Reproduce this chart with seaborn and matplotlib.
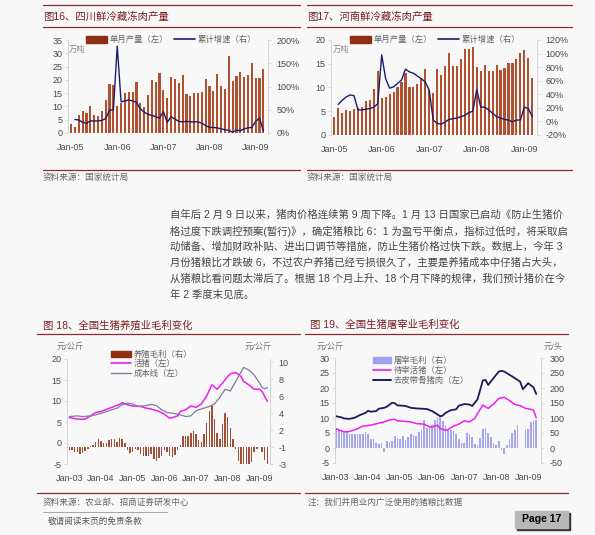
import matplotlib
matplotlib.use('Agg')
import matplotlib.pyplot as plt
import seaborn as sns
from matplotlib.lines import Line2D
from matplotlib.patches import Patch, Rectangle

# ---- Fig 16: Sichuan, Jan-05 .. Mar-09 (monthly) ----
sc_month = list(range(51))
sc_output = [3.4, 2.4, 6.8, 8.4, 7.6, 10.1, 6.6, 6.4, 8.4, 12.6, 18.4, 18.0,
             10.1, 11.4, 14.9, 15.4, 15.4, 19.1, 11.4, 9.9, 14.3, 19.9, 19.3, 22.4,
             16.1, 13.0, 21.1, 20.5, 18.8, 21.8, 14.5, 14.0, 15.0, 15.0, 15.4, 20.2,
             17.8, 15.9, 22.2, 17.8, 16.5, 29.0, 19.6, 21.5, 23.0, 21.2, 21.8, 26.2,
             20.6, 20.6, 24.0]
sc_growth = [29, 28, 23, 21, 26, 26, 26, 27, 31, 49, 50,
             187, 67, 69, 71, 69, 66, 52, 45, 40, 38, 35, 32,
             46, 23, 35, 30, 25, 24, 25, 24, 24, 24, 21, 16,
             12, 12, 11, 9, 7, 6, 1.5, 6, 5, 9, 11, 12,
             25, 32, 5]  # from Feb-05

# ---- Fig 17: Henan, Jan-05 .. Mar-09 ----
hn_month = list(range(51))
hn_output = [3.7, 5.6, 4.7, 5.3, 5.0, 5.5, 5.6, 5.8, 7.2, 7.4, 9.6, 13.5,
             7.7, 8.1, 8.6, 9.0, 10.0, 11.2, 13.0, 10.0, 10.0, 10.7, 12.1, 13.9,
             9.5, 8.9, 13.9, 12.6, 14.5, 17.2, 14.5, 14.5, 15.9, 18.2, 18.1, 18.6,
             14.4, 13.5, 14.7, 13.4, 13.5, 14.7, 13.7, 14.2, 15.1, 15.2, 16.1, 17.3,
             17.8, 16.3, 12.1]
hn_growth = [25, 31, 36, 39, 38, 17, 17, 18, 19, 21, 26,
             98, 63, 49, 51, 56, 61, 77, 73, 71, 67, 63, 58,
             46, 2, -3, -4, -1, 3, 4, 5, 7, 9, 13, 15,
             47, 21, 21, 17, 12, 7, 5, 3, 2, -0.5, 2, 2,
             21, 19, 7]  # from Feb-05

# ---- Fig 18: national hog farming margin, Jan-03 .. Apr-09 ----
farm_month = list(range(76))
farm_margin = [-0.3, -0.4, -0.6, -0.6, -0.8, -0.7, -0.5, -0.2, 0.1, 0.3, 0.6, 1.0,
               0.7, 0.5, 0.5, 0.8, 1.0, 0.9, 0.6, 1.1, 1.0, 0.5, -0.3, -0.7,
               -0.6, -0.2, -0.4, -0.8, -1.1, -1.1, -1.1, -0.8, -1.4, -1.6, -1.3, -1.0,
               -0.3, -0.6, -1.0, -1.2, -0.9, -0.4, 0.3, 1.3, 1.3, 1.3, 1.7, 1.9,
               1.5, 0.8, 0.6, 1.6, 2.9, 4.3, 5.0, 3.3, 1.7, 1.0, 2.7, 4.0,
               3.6, 2.3, 0.9, -0.2, -1.6, -2.3, -2.3, -2.3, -2.3, -1.8, -0.6, -0.2,
               0.0, -0.6, -1.5, -2.3]
hog_month = [0, 2, 4, 6, 8, 10, 12, 14, 17, 19, 20, 22, 24, 27, 29, 31, 34, 36, 38, 39,
             41, 42, 44, 46, 48, 50, 52, 54, 56, 58, 60, 61, 63, 65, 66, 68, 70, 72, 73, 75]
hog_price = [6.05, 5.8, 5.65, 5.7, 6.45, 7.25, 7.5, 8.0, 8.7, 9.2, 9.6, 9.1, 8.8, 8.7, 8.3,
             8.1, 7.5, 6.85, 5.9, 6.05, 6.45, 7.5, 7.9, 8.8, 8.5, 9.3, 11.2, 13.85, 12.8,
             14.25, 15.85, 16.5, 16.8, 15.85, 14.65, 13.85, 12.8, 12.8, 12.25, 9.9]
cost_month = [0, 3, 5, 8, 10, 13, 15, 18, 20, 22, 24, 26, 29, 31, 33, 35, 37, 39, 42, 44,
              46, 48, 51, 53, 55, 57, 59, 61, 63, 66, 68, 70, 72, 73, 74, 75]
cost_line = [6.3, 6.45, 6.3, 6.45, 6.7, 7.25, 7.7, 8.3, 9.1, 9.5, 9.3, 8.7, 8.9, 9.2, 8.9,
             7.9, 7.25, 7.1, 6.7, 6.3, 6.45, 7.7, 8.3, 8.7, 9.3, 10.9, 12.8, 12.4, 14.65,
             18.0, 17.4, 16.2, 14.3, 13.2, 12.9, 13.2]

# ---- Fig 19: national slaughtering margin, Jan-03 .. Apr-09 ----
slaughter_month = list(range(76))
slaughter_margin = [65, 61, 57, 57, 54, 46, 46, 46, 46, 46, 46, 53,
                    46, 31, 31, 17, 12, 17, -13, 23, 20, 23, 40, 35,
                    29, 39, 28, 37, 46, 42, 40, 54, 59, 93, 68, 70,
                    76, 93, 102, 102, 91, 76, 65, 61, 57, 46, 31, 17,
                    17, 50, 48, 37, 15, 9, 35, 65, 68, 50, 37, 17,
                    9, 23, -6, -19, 11, 31, 50, 61, 76, 1, 0, 59,
                    65, 87, 91, 93]
live_month = [0, 2, 3, 5, 8, 10, 13, 15, 18, 20, 22, 23, 25, 28, 30, 33, 35, 36, 38, 39,
              41, 42, 44, 46, 48, 50, 52, 53, 55, 57, 59, 61, 63, 65, 67, 69, 71, 73, 74, 75]
live_price = [6.4, 5.7, 5.4, 5.5, 6.4, 7.3, 7.6, 8.05, 8.7, 9.3, 9.6, 9.05, 8.95, 8.7, 8.15,
              7.95, 7.05, 7.05, 7.6, 6.5, 5.9, 6.15, 7.3, 7.95, 9.05, 8.7, 9.85, 11.5, 14.3,
              13.2, 14.65, 16.55, 16.9, 15.8, 14.55, 14.1, 13.2, 12.9, 12.6, 10.1]
pork_month = [0, 2, 3, 5, 7, 9, 11, 12, 13, 15, 16, 18, 19, 21, 22, 23, 25, 26, 28, 30,
              32, 34, 36, 38, 39, 40, 41, 43, 45, 46, 48, 50, 51, 53, 55, 56, 57, 59, 61,
              62, 63, 65, 67, 69, 70, 72, 74, 75]
pork_price = [10.6, 10.2, 9.85, 9.7, 10.1, 11.0, 11.7, 12.4, 12.1, 12.3, 13.1, 13.4, 13.75,
              15.1, 14.9, 14.2, 14.1, 14.0, 13.4, 13.2, 13.1, 13.0, 12.3, 11.2, 10.6, 10.8,
              11.7, 12.6, 12.9, 14.1, 14.65, 14.5, 14.0, 16.2, 22.5, 22.7, 21.0, 23.3, 25.5,
              25.7, 25.5, 24.4, 23.3, 22.1, 19.6, 21.6, 20.2, 18.0]

tick_05 = ['Jan-05', 'Jan-06', 'Jan-07', 'Jan-08', 'Jan-09']
tick_03 = ['Jan-03', 'Jan-04', 'Jan-05', 'Jan-06', 'Jan-07', 'Jan-08', 'Jan-09']

para = [
    '自年后 2 月 9 日以来，猪肉价格连续第 9 周下降。1 月 13 日国家已启动《防止生猪价',
    '格过度下跌调控预案(暂行)》，确定猪粮比 6：1 为盈亏平衡点，指标过低时，将采取启',
    '动储备、增加财政补贴、进出口调节等措施，防止生猪价格过快下跌。数据上，今年 3',
    '月份猪粮比才跌破 6，不过农户养猪已经亏损很久了，主要是养猪成本中仔猪占大头，',
    '从猪粮比看问题太滞后了。根据 18 个月上升、18 个月下降的规律，我们预计猪价在今',
    '年 2 季度末见底。',
]

W, H = 595, 535
BG = '#f8f8f8'
RULE = '#8c2b2b'
TITLE = '#7a1f1f'
TXT = '#4a4a4a'
BAR = '#b0512f'
NAVY = '#1c1c6e'
MAGENTA = '#f01cf0'

sns.set_theme(style='white')
plt.rcParams['font.family'] = ['Liberation Sans', 'Noto Sans CJK SC']
plt.rcParams['axes.unicode_minus'] = False

fig = plt.figure(figsize=(W / 100, H / 100), dpi=100, facecolor=BG)


def box(x0, y0, x1, y1):
    return [x0 / W, 1 - y1 / H, (x1 - x0) / W, (y1 - y0) / H]


def rule(x0, x1, y, color=RULE, lw=0.9):
    fig.add_artist(Line2D([x0 / W, x1 / W], [1 - y / H, 1 - y / H], color=color, lw=lw))


def put(x, y, s, **kw):
    kw.setdefault('va', 'center')
    kw.setdefault('ha', 'left')
    fig.text(x / W, 1 - y / H, s, **kw)


def style(ax, axr):
    for a in (ax, axr):
        a.set_xlabel('')
        a.set_ylabel('')
        a.spines['top'].set_visible(False)
        a.spines['bottom'].set_visible(False)
    ax.spines['right'].set_visible(False)
    axr.spines['left'].set_visible(False)
    ax.spines['left'].set_color('#cfcfcf')
    axr.spines['right'].set_color('#cfcfcf')
    ax.spines['left'].set_linewidth(0.6)
    axr.spines['right'].set_linewidth(0.6)
    ax.set_facecolor('none')
    ax.tick_params(axis='y', labelsize=6.5, labelcolor=TXT, length=2, width=0.5,
                   color='#cfcfcf', pad=2, left=True)
    axr.tick_params(axis='y', labelsize=6.5, labelcolor=TXT, length=2, width=0.5,
                    color='#cfcfcf', pad=4, right=True)
    ax.tick_params(axis='x', labelsize=6.5, labelcolor=TXT, length=0, pad=7)
    ax.grid(False)
    axr.grid(False)


def production_chart(rect, months, output, growth, ylim, rlim, rticks, legend_xy):
    ax = fig.add_axes(box(*rect))
    sns.barplot(x=months, y=output, color=BAR, saturation=1, width=0.55,
                linewidth=0, edgecolor='none', ax=ax)
    axr = ax.twinx()
    sns.lineplot(x=months[1:], y=growth, color=NAVY, lw=1.0, ax=axr)
    ax.set_xlim(-0.8, 51.2)
    ax.set_ylim(*ylim)
    ax.set_yticks(range(ylim[0], ylim[1] + 1, 5))
    ax.set_xticks([0, 12, 24, 36, 48])
    ax.set_xticklabels(tick_05)
    axr.set_ylim(*rlim)
    axr.set_yticks(rticks)
    axr.set_yticklabels([f'{t}%' for t in rticks])
    style(ax, axr)
    handles = [Patch(color='#8e2f12'), Line2D([], [], color=NAVY, lw=1.2)]
    axr.legend(handles, ['单月产量（左）', '累计增速（右）'], loc='center', ncol=2,
               bbox_to_anchor=(legend_xy[0] / W, 1 - legend_xy[1] / H),
               bbox_transform=fig.transFigure, frameon=False, fontsize=6,
               handlelength=2.6, handleheight=0.8, handletextpad=0.3, columnspacing=0.6,
               labelcolor='#666')
    return ax


# ---------- top row ----------
rule(43, 300, 5)
rule(43, 300, 27)
rule(43, 300, 170)
rule(307, 572, 5)
rule(307, 572, 27)
rule(307, 572, 170)
put(43, 17, '图16、四川鲜冷藏冻肉产量', fontsize=7.5, color=TITLE)
put(307, 17, '图17、河南鲜冷藏冻肉产量', fontsize=7.5, color=TITLE)
put(43, 177, '资料来源：国家统计局', fontsize=6.2, color='#666')
put(307, 177, '资料来源：国家统计局', fontsize=6.2, color='#666')

production_chart((68, 40, 268, 133), sc_month, sc_output, sc_growth, (0, 35), (0, 200),
                 [0, 50, 100, 150, 200], (171, 40))
production_chart((331, 40, 537, 135), hn_month, hn_output, hn_growth, (0, 20), (-20, 120),
                 [-20, 0, 20, 40, 60, 80, 100, 120], (435, 40))
put(69, 50, '万吨', fontsize=6, color='#888')
put(333, 50, '万吨', fontsize=6, color='#888')

# ---------- paragraph ----------
for i, line in enumerate(para):
    put(170, 215 + 16 * i, line, fontsize=7.45, color='#444')

# ---------- fig 18 ----------
rule(37, 300, 334)
rule(37, 300, 493)
put(43, 325, '图 18、全国生猪养殖业毛利变化', fontsize=7.5, color=TITLE)
put(57, 347, '元/公斤', fontsize=6, color='#777')
put(272, 347, '元/公斤', fontsize=6, color='#777', ha='right')

ax = fig.add_axes(box(67, 359, 270, 464))
axr = ax.twinx()
sns.barplot(x=farm_month, y=farm_margin, color='#9e5038', saturation=1, width=0.55,
            linewidth=0, edgecolor='none', ax=axr)
sns.lineplot(x=hog_month, y=hog_price, color=MAGENTA, lw=1.1, ax=ax)
sns.lineplot(x=cost_month, y=cost_line, color='#7d7d9e', lw=0.9, ax=ax)
ax.set_zorder(axr.get_zorder() + 1)
ax.patch.set_visible(False)
ax.set_xlim(-0.9, 76)
ax.set_ylim(-5, 20)
ax.set_yticks([-5, 0, 5, 10, 15, 20])
ax.set_xticks(range(0, 73, 12))
ax.set_xticklabels(tick_03)
axr.set_ylim(-2, 10.4)
axr.set_yticks([10, 8, 6, 4, 2, 0, -2])
axr.set_yticklabels(['10', '8', '6', '4', '2', '-1', '-3'])
style(ax, axr)
ax.legend([Patch(color='#8e2f12'), Line2D([], [], color=MAGENTA, lw=1.2),
           Line2D([], [], color='#7d7d9e', lw=1.0)],
          ['养殖毛利（右）', '活猪（左）', '成本线（左）'], loc='upper left',
          bbox_to_anchor=(111 / W, 1 - 350 / H), bbox_transform=fig.transFigure,
          frameon=False, fontsize=6, handlelength=2.4, handleheight=0.7,
          handletextpad=0.3, labelspacing=0.15, borderaxespad=0, borderpad=0,
          labelcolor='#666')

put(43, 502, '资料来源：农业部、招商证券研发中心', fontsize=6.2, color='#666')
rule(43, 167, 512, color='#999999', lw=0.6)
put(48, 521, '敬请阅读末页的免责条款', fontsize=6.2, color='#555')

# ---------- fig 19 ----------
rule(305, 568, 334)
rule(305, 568, 493)
put(310, 325, '图 19、全国生猪屠宰业毛利变化', fontsize=7.5, color=TITLE)
put(317, 347, '元/公斤', fontsize=6, color='#777')
put(563, 347, '元/头', fontsize=6, color='#777', ha='right')

ax = fig.add_axes(box(335, 358, 541, 463))
axr = ax.twinx()
sns.barplot(x=slaughter_month, y=slaughter_margin, color='#a4a6f2', saturation=1,
            width=0.65, linewidth=0, edgecolor='none', ax=axr)
sns.lineplot(x=live_month, y=live_price, color=MAGENTA, lw=1.1, ax=ax)
sns.lineplot(x=pork_month, y=pork_price, color='#1c1c5c', lw=1.3, ax=ax)
ax.set_zorder(axr.get_zorder() + 1)
ax.patch.set_visible(False)
ax.set_xlim(-0.4, 76.8)
ax.set_ylim(-5, 30)
ax.set_yticks(range(-5, 31, 5))
ax.set_xticks(range(0, 73, 12))
ax.set_xticklabels(tick_03)
axr.set_ylim(-50, 300)
axr.set_yticks(range(-50, 301, 50))
style(ax, axr)
ax.legend([Patch(color='#a0a2f0'), Line2D([], [], color=MAGENTA, lw=1.2),
           Line2D([], [], color='#1c1c5c', lw=1.4)],
          ['屠宰毛利（右）', '待宰活猪（左）', '去皮带骨猪肉（左）'], loc='upper left',
          bbox_to_anchor=(373 / W, 1 - 357 / H), bbox_transform=fig.transFigure,
          frameon=False, fontsize=6, handlelength=2.2, handleheight=0.7,
          handletextpad=0.3, labelspacing=0.15, borderaxespad=0, borderpad=0,
          labelcolor='#666')

put(308, 502, '注：我们并用业内广泛使用的猪粮比数据', fontsize=6.2, color='#666')

# page badge
fig.add_artist(Rectangle((517 / W, 1 - 530 / H), 53 / W, 17 / H, color='#333333',
                         transform=fig.transFigure))
fig.add_artist(Rectangle((515 / W, 1 - 528 / H), 53 / W, 17 / H, color='#b8b8b8',
                         transform=fig.transFigure))
put(541.5, 519.5, 'Page 17', fontsize=7.5, color='black', fontweight='bold', ha='center')

fig.savefig('out.png', dpi=100, facecolor=BG)
